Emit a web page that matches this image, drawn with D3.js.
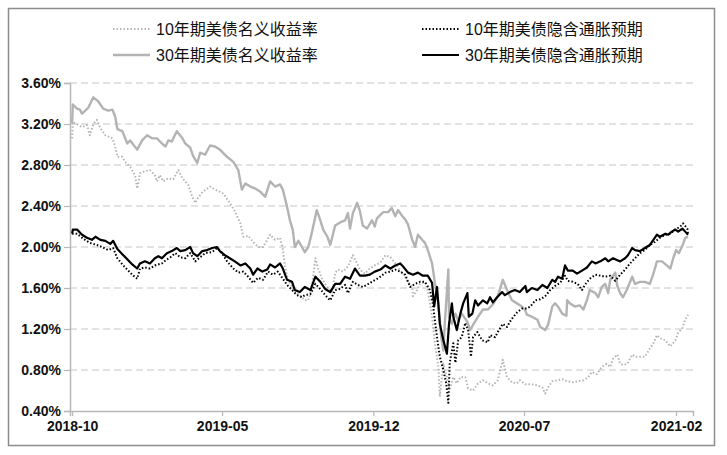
<!DOCTYPE html>
<html>
<head>
<meta charset="utf-8">
<script src="https://cdn.jsdelivr.net/npm/d3@7"></script>
<style>
  body { margin: 0; background: #fff; }
  .tickText { font-family: "Liberation Sans", "Noto Sans CJK SC", sans-serif; font-size: 14px; fill: #111; }
  .legendText { font-family: "Liberation Sans", "Noto Sans CJK SC", sans-serif; font-size: 16px; fill: #111; }
</style>
</head>
<body>
<div id="chart"></div>
<script>
// day offsets from 2018-10-01, yield in %
var nominal10 = [[0,3.06],[1,3.22],[7,3.20],[14,3.17],[21,3.19],[25,3.09],[30,3.20],[35,3.24],[40,3.16],[47,3.09],[57,3.06],[61,2.98],[64,2.88],[71,2.88],[75,2.83],[82,2.78],[89,2.70],[92,2.57],[96,2.72],[103,2.74],[110,2.75],[117,2.70],[120,2.64],[124,2.70],[129,2.64],[136,2.67],[143,2.66],[150,2.75],[156,2.67],[160,2.64],[164,2.61],[170,2.49],[174,2.43],[178,2.48],[185,2.54],[195,2.59],[202,2.56],[212,2.53],[216,2.50],[223,2.43],[230,2.35],[238,2.23],[242,2.10],[249,2.11],[256,2.05],[263,2.00],[270,2.00],[280,2.12],[287,2.07],[294,2.09],[298,1.98],[301,1.81],[305,1.68],[311,1.61],[315,1.56],[322,1.53],[329,1.48],[334,1.48],[339,1.61],[344,1.89],[348,1.79],[354,1.68],[361,1.61],[368,1.56],[372,1.75],[376,1.78],[383,1.76],[390,1.81],[397,1.92],[403,1.84],[407,1.78],[414,1.74],[421,1.79],[428,1.82],[436,1.85],[443,1.92],[450,1.90],[457,1.84],[464,1.77],[468,1.74],[475,1.66],[481,1.61],[482,1.52],[488,1.58],[492,1.64],[499,1.66],[503,1.58],[509,1.32],[513,1.06],[518,0.83],[520,0.54],[525,0.86],[527,0.80],[532,0.67],[534,0.61],[539,0.73],[544,0.67],[549,0.73],[556,0.73],[560,0.62],[567,0.60],[574,0.67],[581,0.70],[588,0.67],[595,0.65],[602,0.70],[609,0.90],[615,0.73],[622,0.68],[629,0.67],[633,0.70],[641,0.66],[650,0.66],[658,0.65],[665,0.63],[669,0.57],[673,0.63],[679,0.69],[686,0.70],[693,0.71],[700,0.69],[708,0.68],[715,0.69],[723,0.70],[730,0.73],[735,0.78],[742,0.76],[749,0.83],[756,0.86],[761,0.83],[765,0.91],[771,0.95],[775,0.86],[779,0.85],[785,0.86],[792,0.95],[796,0.93],[803,0.93],[810,0.93],[817,1.01],[822,1.06],[827,1.14],[831,1.11],[839,1.09],[846,1.03],[853,1.09],[857,1.16],[863,1.21],[867,1.29],[871,1.34]];

var breakeven10 = [[0,2.13],[7,2.13],[16,2.08],[25,2.04],[35,2.02],[42,2.00],[51,1.97],[58,1.99],[64,1.89],[71,1.83],[78,1.78],[85,1.73],[92,1.69],[96,1.79],[103,1.80],[110,1.79],[117,1.82],[127,1.84],[132,1.87],[139,1.90],[146,1.94],[153,1.90],[160,1.89],[167,1.94],[174,1.86],[181,1.90],[188,1.94],[198,1.95],[205,1.99],[212,1.94],[219,1.86],[228,1.79],[235,1.75],[242,1.76],[249,1.71],[256,1.65],[263,1.70],[270,1.68],[277,1.76],[284,1.73],[291,1.76],[298,1.69],[304,1.63],[311,1.58],[318,1.53],[325,1.51],[329,1.53],[337,1.54],[344,1.64],[351,1.59],[358,1.53],[365,1.48],[372,1.58],[379,1.59],[386,1.63],[390,1.55],[397,1.66],[404,1.63],[411,1.61],[419,1.64],[426,1.67],[434,1.70],[443,1.75],[450,1.76],[457,1.78],[464,1.76],[471,1.73],[478,1.61],[485,1.64],[492,1.66],[499,1.66],[506,1.58],[510,1.45],[516,1.12],[520,0.93],[525,0.80],[529,0.67],[532,0.48],[534,0.87],[539,1.06],[542,0.87],[546,1.09],[551,1.12],[556,1.26],[560,1.19],[564,0.93],[567,1.12],[573,1.17],[580,1.09],[588,1.07],[591,1.14],[598,1.12],[602,1.17],[609,1.25],[615,1.22],[619,1.27],[624,1.32],[629,1.36],[636,1.40],[643,1.40],[648,1.42],[655,1.48],[662,1.49],[669,1.52],[676,1.58],[683,1.62],[690,1.65],[697,1.72],[701,1.67],[708,1.66],[715,1.64],[721,1.58],[725,1.63],[732,1.69],[740,1.73],[747,1.72],[754,1.71],[761,1.72],[768,1.67],[775,1.73],[782,1.78],[789,1.84],[796,1.89],[803,1.94],[810,1.97],[817,2.02],[824,2.05],[831,2.09],[839,2.12],[846,2.13],[853,2.17],[860,2.20],[864,2.23],[870,2.18],[871,2.13]];

var nominal30 = [[0,3.21],[1,3.39],[7,3.35],[11,3.34],[14,3.30],[23,3.36],[30,3.46],[37,3.42],[44,3.35],[51,3.33],[57,3.34],[61,3.27],[64,3.15],[71,3.13],[78,3.01],[82,3.04],[92,2.95],[99,3.04],[106,3.09],[113,3.06],[120,3.06],[127,3.01],[132,2.98],[136,3.04],[141,3.03],[148,3.13],[156,3.06],[160,3.01],[167,2.97],[171,2.89],[177,2.82],[181,2.92],[188,2.90],[195,2.99],[202,2.98],[209,2.95],[219,2.88],[228,2.83],[235,2.75],[240,2.56],[245,2.62],[252,2.59],[259,2.57],[266,2.54],[273,2.49],[280,2.64],[287,2.59],[294,2.61],[298,2.56],[304,2.39],[308,2.26],[312,2.17],[315,2.00],[320,2.06],[325,2.00],[329,1.95],[334,2.00],[339,2.14],[346,2.36],[351,2.26],[355,2.17],[361,2.10],[365,2.02],[372,2.21],[379,2.24],[386,2.26],[390,2.33],[393,2.18],[397,2.33],[403,2.43],[407,2.35],[411,2.21],[417,2.18],[424,2.26],[428,2.20],[431,2.28],[440,2.34],[447,2.34],[452,2.38],[457,2.30],[461,2.36],[467,2.30],[471,2.27],[475,2.22],[481,2.07],[485,2.00],[489,2.12],[495,2.07],[499,2.04],[503,1.97],[509,1.84],[513,1.65],[518,1.45],[522,1.12],[525,0.99],[527,1.25],[532,1.78],[533,1.32],[537,1.25],[542,1.35],[546,1.28],[551,1.35],[559,1.27],[563,1.19],[567,1.24],[574,1.32],[581,1.39],[588,1.39],[595,1.44],[602,1.52],[609,1.68],[615,1.58],[622,1.48],[629,1.45],[636,1.42],[641,1.38],[643,1.34],[650,1.32],[658,1.29],[662,1.22],[669,1.19],[673,1.24],[679,1.42],[683,1.45],[687,1.42],[693,1.35],[699,1.33],[700,1.48],[704,1.45],[711,1.42],[718,1.43],[723,1.39],[728,1.48],[732,1.58],[740,1.55],[744,1.51],[749,1.61],[754,1.64],[758,1.55],[761,1.68],[768,1.75],[771,1.62],[775,1.55],[779,1.51],[785,1.59],[792,1.71],[796,1.64],[803,1.66],[810,1.66],[817,1.64],[822,1.74],[827,1.86],[834,1.86],[841,1.82],[846,1.79],[850,1.89],[854,1.97],[858,1.94],[864,2.03],[867,2.09],[871,2.10]];

var breakeven30 = [[0,2.13],[1,2.17],[7,2.17],[14,2.12],[21,2.09],[28,2.07],[33,2.10],[40,2.07],[47,2.06],[54,2.03],[58,2.06],[64,1.98],[71,1.93],[78,1.88],[85,1.83],[92,1.79],[96,1.84],[103,1.86],[110,1.84],[117,1.89],[122,1.91],[127,1.89],[134,1.94],[141,1.96],[148,1.99],[153,1.96],[160,1.97],[167,2.00],[171,1.94],[177,1.91],[184,1.96],[191,1.97],[198,1.99],[205,2.00],[209,1.96],[216,1.92],[223,1.89],[230,1.86],[238,1.82],[245,1.84],[252,1.79],[256,1.73],[262,1.79],[269,1.76],[276,1.78],[280,1.83],[287,1.80],[294,1.84],[298,1.79],[304,1.68],[311,1.66],[315,1.58],[322,1.56],[329,1.61],[337,1.58],[344,1.71],[351,1.66],[358,1.59],[365,1.56],[372,1.64],[379,1.64],[386,1.71],[393,1.69],[400,1.79],[407,1.72],[414,1.72],[421,1.73],[428,1.76],[436,1.78],[443,1.82],[450,1.79],[457,1.82],[464,1.84],[468,1.81],[475,1.75],[482,1.73],[489,1.75],[496,1.72],[503,1.72],[509,1.65],[512,1.42],[516,1.61],[520,1.25],[525,1.09],[530,0.96],[533,1.25],[537,1.45],[539,1.32],[544,1.19],[549,1.35],[553,1.45],[559,1.55],[561,1.32],[566,1.35],[570,1.48],[574,1.43],[581,1.48],[587,1.45],[591,1.51],[595,1.46],[601,1.51],[608,1.56],[612,1.53],[619,1.56],[626,1.58],[633,1.56],[641,1.62],[643,1.56],[650,1.60],[658,1.58],[665,1.63],[672,1.60],[679,1.68],[683,1.66],[687,1.71],[693,1.69],[697,1.82],[701,1.77],[708,1.77],[714,1.74],[721,1.77],[728,1.80],[735,1.86],[740,1.84],[747,1.86],[754,1.89],[758,1.86],[765,1.89],[771,1.87],[775,1.86],[782,1.89],[786,1.92],[792,1.99],[796,1.97],[803,1.96],[810,1.99],[817,2.02],[822,2.07],[827,2.12],[831,2.10],[839,2.13],[843,2.12],[848,2.15],[853,2.17],[857,2.15],[863,2.18],[867,2.15],[871,2.12]];

var yTicks = [0.4, 0.8, 1.2, 1.6, 2.0, 2.4, 2.8, 3.2, 3.6];
var xTickLabels = ["2018-10", "2019-05", "2019-12", "2020-07", "2021-02"];
var seriesNames = ["10年期美债名义收益率", "10年期美债隐含通胀预期", "30年期美债名义收益率", "30年期美债隐含通胀预期"];

var width = 727, height = 455;
var margin = {top: 83, right: 34, bottom: 44, left: 70};
var start = new Date(2018, 9, 1);
var parseMonth = d3.timeParse("%Y-%m");

var svg = d3.select("#chart").append("svg")
    .attr("width", width)
    .attr("height", height);

// outer frame
svg.append("rect")
    .attr("x", 8.5).attr("y", 8.5)
    .attr("width", 706).attr("height", 437)
    .attr("fill", "none")
    .attr("stroke", "#8c8c8c")
    .attr("stroke-width", 1.5);

var x = d3.scaleTime()
    .domain([new Date(2018, 8, 28), new Date(2021, 1, 25)])
    .range([margin.left, width - margin.right]);

var y = d3.scaleLinear()
    .domain([0.4, 3.6])
    .range([height - margin.bottom, margin.top]);

// dashed grid lines
svg.append("g").selectAll("line")
    .data(yTicks.slice(1))
    .enter().append("line")
    .attr("x1", margin.left)
    .attr("x2", width - margin.right)
    .attr("y1", d => y(d))
    .attr("y2", d => y(d))
    .attr("stroke", "#c6c6c6")
    .attr("stroke-width", 1)
    .attr("stroke-dasharray", "7,4");

var yAxis = svg.append("g")
    .attr("transform", "translate(" + margin.left + ",0)")
    .call(d3.axisLeft(y).tickValues(yTicks).tickSize(6).tickPadding(3)
        .tickFormat(d => d.toFixed(2) + "%"));

var xAxis = svg.append("g")
    .attr("transform", "translate(0," + (height - margin.bottom) + ")")
    .call(d3.axisBottom(x).tickValues(xTickLabels.map(parseMonth)).tickSize(5).tickPadding(5)
        .tickFormat(d3.timeFormat("%Y-%m")));

[yAxis, xAxis].forEach(function(ax){
    ax.select(".domain").attr("stroke", "#b8b8b8").attr("stroke-width", 1.5);
    ax.selectAll(".tick line").attr("stroke", "#b8b8b8").attr("stroke-width", 1.2);
    ax.selectAll("text").attr("class", "tickText").attr("font-weight", "bold");
});

var line = d3.line()
    .x(d => x(d3.timeDay.offset(start, d[0])))
    .y(d => y(d[1]));

var styles = [
    {data: nominal10, color: "#b5b5b5", w: 2, dash: "1.5,2"},
    {data: breakeven10, color: "#000", w: 2, dash: "1.5,2"},
    {data: nominal30, color: "#b3b3b3", w: 2.4, dash: null},
    {data: breakeven30, color: "#000", w: 2.2, dash: null}
];

var order = [0, 2, 1, 3];
order.forEach(function(i){
    var s = styles[i];
    svg.append("path")
        .datum(s.data)
        .attr("d", line)
        .attr("fill", "none")
        .attr("stroke", s.color)
        .attr("stroke-width", s.w)
        .attr("stroke-dasharray", s.dash)
        .attr("stroke-linejoin", "round");
});

// legend, two columns by two rows
var legendPos = [[113, 29], [422, 29], [113, 55], [422, 55]];
seriesNames.forEach(function(name, i){
    var s = styles[i];
    var g = svg.append("g").attr("transform", "translate(" + legendPos[i][0] + "," + legendPos[i][1] + ")");
    g.append("line")
        .attr("x1", 0).attr("x2", 37)
        .attr("stroke", s.color)
        .attr("stroke-width", s.w)
        .attr("stroke-dasharray", s.dash);
    g.append("text")
        .attr("class", "legendText")
        .attr("x", 43)
        .attr("dy", "0.36em")
        .text(name);
});
</script>
</body>
</html>
